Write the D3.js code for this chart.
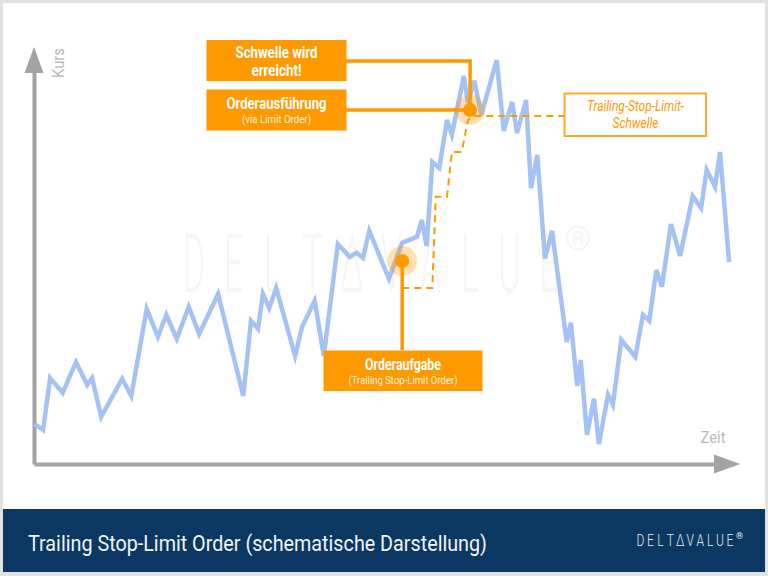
<!DOCTYPE html>
<html>
<head>
<meta charset="utf-8">
<script src="https://cdn.jsdelivr.net/npm/d3@7"></script>
<style>
  body { margin: 0; background: #fff; }
  svg { display: block; font-family: Roboto, "Noto Sans", sans-serif; }
</style>
</head>
<body>
<svg></svg>
<script>
// Kursverlauf (Zeit 0..100, Kurs 0..100)
const kursZeit = [0.1, 1.3, 2.3, 4.1, 6.0, 7.6, 8.3, 9.6, 12.6, 13.9, 16.1, 17.7, 18.9, 20.4, 22.1, 23.6, 26.3,
  29.9, 31.0, 32.0, 32.7, 33.6, 34.6, 37.3, 38.3, 40.1, 41.4, 43.4, 45.1, 46.1, 47.0, 47.9, 50.7, 52.6,
  54.7, 55.4, 56.1, 56.9, 57.9, 59.0, 59.7, 61.4, 62.0, 62.9, 63.9, 66.1, 67.1, 68.3, 69.0, 70.3, 71.0,
  71.9, 73.0, 74.0, 76.1, 76.7, 77.6, 78.1, 79.0, 80.0, 80.7, 82.0, 82.7, 83.9, 85.9, 87.0, 87.9, 88.9,
  89.7, 91.0, 92.3, 94.1, 95.3, 96.1, 97.3, 98.0, 99.3];
const kursWert = [10, 8.5, 21.5, 17.8, 25.5, 19.8, 21.5, 11.8, 21.3, 17, 38.8, 31.8, 37.3, 31.3, 39.3, 32.5, 42.5,
  17, 35.8, 33.8, 42.5, 39, 44, 27, 34.3, 40.8, 27, 55, 51.8, 52.8, 51.5, 58.3, 46.3, 55.3,
  56.8, 61, 54.5, 75.5, 74, 86, 82.3, 97, 90.3, 95.8, 87.3, 101, 83.3, 90.5, 82.8, 91, 69,
  77.3, 51.3, 58.3, 30.5, 35.3, 19.5, 26, 7.3, 16.3, 5, 17.3, 14.8, 31, 26.8, 37.3, 35.8, 48.5,
  44.3, 60, 52, 67, 64, 73.5, 69.3, 78, 50.5];

// Trailing-Stop-Limit-Schwelle (gestrichelt)
const stopZeit = [52.6, 56.9, 57.4, 59.0, 59.7, 61.1, 62.0, 62.6, 75.7];
const stopWert = [44, 44, 66.8, 66.8, 78, 78, 86, 87, 87];

// Markierungen: Orderaufgabe, Orderausführung
const markerZeit = [52.6, 62.3];
const markerWert = [50.75, 88.5];

// Logo-Buchstaben
const logo = ["D", "E", "L", "T", "Δ", "V", "A", "L", "U", "E"];

const width = 768, height = 576,
    orange = "#ff9900", blue = "#a4c2f4", grey = "#a3a3a3", labelGrey = "#b9b9b9";

const x = d3.scaleLinear().domain([0, 100]).range([34, 734]),
    y = d3.scaleLinear().domain([0, 100]).range([464, 64]);

const svg = d3.select("svg").attr("width", width).attr("height", height);

// Rahmen und Hintergrund
svg.append("rect").attr("width", width).attr("height", height).attr("fill", "#e1e1e1");
svg.append("rect").attr("x", 3).attr("y", 3).attr("width", 762).attr("height", 569).attr("fill", "#fff");

function txt(g, px, py, s, o) {
  const t = g.append("text")
    .attr("x", px).attr("y", py)
    .attr("text-anchor", o.anchor || "middle")
    .attr("font-size", o.size)
    .attr("font-weight", o.weight || 400)
    .attr("fill", o.fill)
    .text(s);
  if (o.style) t.attr("font-style", o.style);
  if (o.len) t.attr("textLength", o.len).attr("lengthAdjust", "spacingAndGlyphs");
  if (o.rotate) t.attr("transform", `rotate(${o.rotate},${px},${py})`);
  return t;
}

// Buchstaben einzeln, vertikal gestreckt
function drawLogo(g, x0, x1, base, size, stretch, fill) {
  const p = d3.scalePoint().domain(d3.range(logo.length)).range([x0, x1]);
  logo.forEach((c, i) => {
    txt(g, 0, 0, c, {size: size, weight: 300, fill: fill})
      .attr("transform", `translate(${p(i)},${base}) scale(1,${stretch})`);
  });
}

// Wasserzeichen
drawLogo(svg, 194, 549, 292, 34, 2.4, "#f6f6f6");
txt(svg, 578, 250, "®", {size: 34, weight: 300, fill: "#f4f4f4"});

// Achsen
const xAxis = d3.axisBottom(x).tickValues([]).tickSizeOuter(0),
    yAxis = d3.axisLeft(y).tickValues([]).tickSizeOuter(0);

svg.append("g").attr("transform", `translate(0,${y(0)})`).call(xAxis)
  .select(".domain").attr("stroke", grey).attr("stroke-width", 4);
svg.append("g").attr("transform", `translate(${x(0)},0)`).call(yAxis)
  .select(".domain").attr("stroke", grey).attr("stroke-width", 4);

svg.append("path").attr("d", "M740,464L714,454.5L714,473.5Z").attr("fill", grey);
svg.append("path").attr("d", "M34,47L24.5,73L43.5,73Z").attr("fill", grey);

txt(svg, 64, 78, "Kurs", {size: 17, fill: labelGrey, anchor: "start", len: 30, rotate: -90});
txt(svg, 700.5, 443, "Zeit", {size: 17, fill: labelGrey, anchor: "start", len: 25});

// Kurslinie
const kurs = kursZeit.map((t, i) => [t, kursWert[i]]),
    stop = stopZeit.map((t, i) => [t, stopWert[i]]),
    marker = markerZeit.map((t, i) => [t, markerWert[i]]);

const line = d3.line().x(d => x(d[0])).y(d => y(d[1]));

svg.append("path").datum(kurs)
  .attr("d", line).attr("fill", "none")
  .attr("stroke", blue).attr("stroke-width", 4.5);

svg.append("path").datum(stop)
  .attr("d", line).attr("fill", "none")
  .attr("stroke", orange).attr("stroke-width", 2).attr("stroke-dasharray", "7,5");

// Halo
svg.selectAll(".halo").data(marker).enter().append("circle")
  .attr("cx", d => x(d[0])).attr("cy", d => y(d[1])).attr("r", 15)
  .attr("fill", orange).attr("opacity", 0.3);

// Verbindungslinien
const mA = marker[0], mB = marker[1];
svg.append("path")
  .attr("d", `M346,61H${x(mB[0])}V${y(mB[1])}`)
  .attr("fill", "none").attr("stroke", orange).attr("stroke-width", 3.5);
svg.append("path")
  .attr("d", `M346,${y(mB[1])}H${x(mB[0])}`)
  .attr("fill", "none").attr("stroke", orange).attr("stroke-width", 3.5);
svg.append("path")
  .attr("d", `M${x(mA[0])},${y(mA[1])}V350`)
  .attr("fill", "none").attr("stroke", orange).attr("stroke-width", 3.5);

svg.selectAll(".dot").data(marker).enter().append("circle")
  .attr("cx", d => x(d[0])).attr("cy", d => y(d[1])).attr("r", 7)
  .attr("fill", orange);

// Boxen
svg.append("rect").attr("x", 206.5).attr("y", 40).attr("width", 140).attr("height", 41).attr("fill", orange);
txt(svg, 276.5, 57.5, "Schwelle wird", {size: 16, weight: 700, fill: "#fff", len: 82});
txt(svg, 276.5, 75.5, "erreicht!", {size: 16, weight: 700, fill: "#fff", len: 50});

svg.append("rect").attr("x", 206.5).attr("y", 89.5).attr("width", 140).attr("height", 41).attr("fill", orange);
txt(svg, 276.5, 109, "Orderausführung", {size: 17, weight: 700, fill: "#fff", len: 100});
txt(svg, 276.5, 123, "(via Limit Order)", {size: 11, fill: "#fff2de", len: 69});

svg.append("rect").attr("x", 323.5).attr("y", 350.5).attr("width", 159).attr("height", 40.5).attr("fill", orange);
txt(svg, 403, 369.5, "Orderaufgabe", {size: 17, weight: 700, fill: "#fff", len: 76});
txt(svg, 403, 383.5, "(Trailing Stop-Limit Order)", {size: 11, fill: "#fff2de", len: 109});

svg.append("rect").attr("x", 564.5).attr("y", 93.5).attr("width", 141.5).attr("height", 42.5)
  .attr("fill", "#fff").attr("stroke", orange).attr("stroke-width", 2).attr("opacity", 0.85);
txt(svg, 635.5, 111, "Trailing-Stop-Limit-", {size: 14, style: "italic", fill: orange, len: 97});
txt(svg, 635.5, 127.5, "Schwelle", {size: 14, style: "italic", fill: orange, len: 46});

// Fußzeile
svg.append("rect").attr("x", 3).attr("y", 509).attr("width", 762).attr("height", 63).attr("fill", "#0b3862");
txt(svg, 28, 551, "Trailing Stop-Limit Order (schematische Darstellung)",
  {size: 22, fill: "#f2f4f7", anchor: "start", len: 459});
drawLogo(svg, 640.5, 730, 546, 12, 1.4, "#e6eaf0");
txt(svg, 739.5, 539, "®", {size: 9, fill: "#e6eaf0"});
</script>
</body>
</html>
